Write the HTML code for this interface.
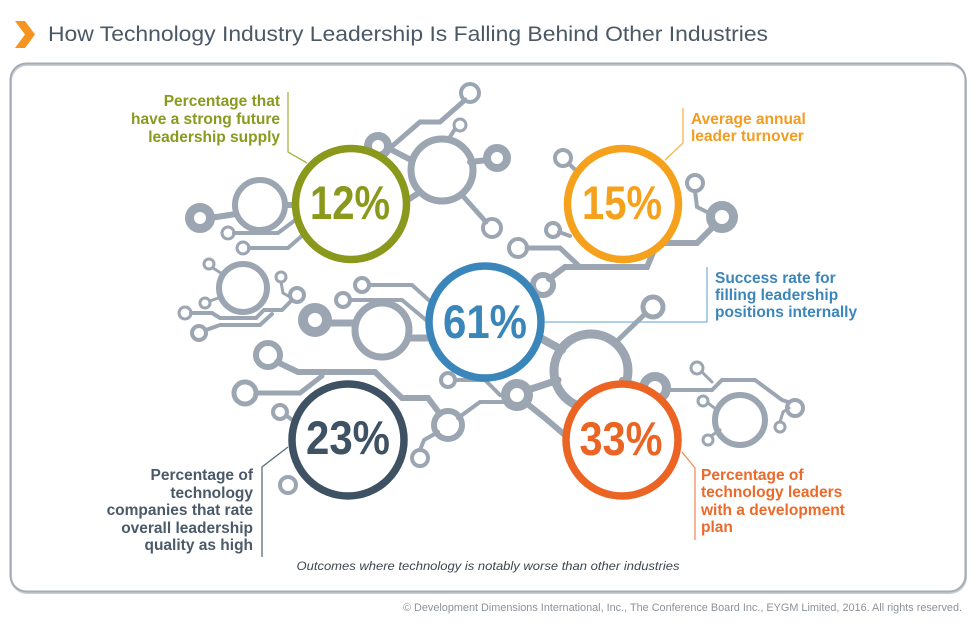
<!DOCTYPE html>
<html><head><meta charset="utf-8"><style>
html,body{margin:0;padding:0;background:#fff;}
svg{display:block;}
text{font-family:"Liberation Sans",Arial,sans-serif;}
</style></head><body>
<svg width="975" height="629" viewBox="0 0 975 629" xmlns="http://www.w3.org/2000/svg">
<rect width="975" height="629" fill="#fff"/>
<!-- title -->
<polygon points="15,21 25,21 35,34.5 25,48 15,48 25,34.5" fill="#f7941d"/>
<text x="48" y="41" font-size="21" fill="#4b5866" textLength="720" lengthAdjust="spacingAndGlyphs">How Technology Industry Leadership Is Falling Behind Other Industries</text>
<!-- frame -->
<rect x="11" y="65" width="955" height="528" rx="16" fill="none" stroke="#c9ced4" stroke-width="2"/>
<rect x="10.5" y="63.5" width="955" height="528" rx="16" fill="none" stroke="#a3adb7" stroke-width="2"/>

<!-- grey circuitry -->
<g fill="none" stroke="#9ba6b2" stroke-linecap="round" stroke-linejoin="miter">
  <!-- top cluster -->
  <polyline points="465,100 440,122 420,122 390,148" stroke-width="5"/>
  <line x1="455" y1="129" x2="448" y2="140" stroke-width="4"/>
  <line x1="411" y1="160" x2="388" y2="148" stroke-width="6"/>
  <line x1="470" y1="162" x2="488" y2="160" stroke-width="6"/>
  <line x1="462" y1="195" x2="486" y2="222" stroke-width="5"/>
  <line x1="420" y1="192" x2="400" y2="205" stroke-width="6"/>
  <circle cx="442" cy="170" r="31" stroke-width="7"/>
  <circle cx="470" cy="93" r="9" stroke-width="4"/>
  <circle cx="460" cy="125" r="6" stroke-width="3"/>
  <circle cx="497" cy="158" r="10" stroke-width="8"/>
  <circle cx="492" cy="228" r="9" stroke-width="4"/>
  <circle cx="378" cy="146" r="10" stroke-width="8"/>

  <!-- left of 12% -->
  <line x1="210" y1="218" x2="236" y2="214" stroke-width="6"/>
  <line x1="285" y1="205" x2="296" y2="205" stroke-width="6"/>
  <polyline points="234,233 278,233 298,218" stroke-width="4"/>
  <polyline points="249,248 288,248 304,234" stroke-width="4"/>
  <circle cx="260" cy="205" r="25" stroke-width="6"/>
  <circle cx="200" cy="218" r="10.5" stroke-width="9"/>
  <circle cx="228" cy="233" r="6" stroke-width="3"/>
  <circle cx="243" cy="248" r="6" stroke-width="3"/>

  <!-- left middle ring cluster -->
  <line x1="213" y1="268" x2="224" y2="275" stroke-width="3"/>
  <polyline points="281,282 283,293 290,297" stroke-width="3"/>
  <line x1="210" y1="301" x2="221" y2="297" stroke-width="3"/>
  <polyline points="191,313 212,313 220,318 256,318 264,310 282,310 292,300" stroke-width="4"/>
  <polyline points="206,330 220,325 260,325 272,314" stroke-width="4"/>
  <circle cx="243" cy="288" r="24" stroke-width="6"/>
  <circle cx="209" cy="264" r="5" stroke-width="3"/>
  <circle cx="281" cy="277" r="5" stroke-width="3"/>
  <circle cx="297" cy="295" r="7" stroke-width="4"/>
  <circle cx="205" cy="303" r="5" stroke-width="3"/>
  <circle cx="185" cy="313" r="6" stroke-width="3"/>
  <circle cx="199" cy="333" r="7" stroke-width="4"/>

  <!-- middle left -->
  <line x1="327" y1="323" x2="356" y2="323" stroke-width="7"/>
  <polyline points="369,285 412,285 432,303" stroke-width="4"/>
  <polyline points="350,300 402,300 426,320" stroke-width="4"/>
  <line x1="408" y1="338" x2="432" y2="338" stroke-width="7"/>
  <circle cx="315" cy="320" r="12" stroke-width="10"/>
  <circle cx="382" cy="330" r="27" stroke-width="7"/>
  <circle cx="362" cy="285" r="7" stroke-width="4"/>
  <circle cx="343" cy="300" r="7" stroke-width="4"/>

  <!-- lower left -->
  <polyline points="277,362 298,372 375,372 402,398 428,398 440,414" stroke-width="6"/>
  <polyline points="256,393 300,393 322,376" stroke-width="5"/>
  <line x1="287" y1="416" x2="300" y2="426" stroke-width="4"/>
  <polyline points="420,450 424,440 438,432" stroke-width="4"/>
  <circle cx="268" cy="355" r="12" stroke-width="6"/>
  <circle cx="245" cy="393" r="11" stroke-width="5"/>
  <circle cx="280" cy="412" r="7" stroke-width="4"/>
  <circle cx="448" cy="425" r="14" stroke-width="6"/>
  <circle cx="420" cy="458" r="8" stroke-width="4"/>
  <circle cx="288" cy="485" r="8" stroke-width="4"/>

  <!-- center right -->
  <line x1="535" y1="335" x2="562" y2="350" stroke-width="8"/>
  <line x1="615" y1="343" x2="645" y2="314" stroke-width="5"/>
  <polyline points="455,380 485,380 500,395 505,395" stroke-width="4"/>
  <line x1="528" y1="390" x2="558" y2="380" stroke-width="7"/>
  <polyline points="525,402 545,418 566,436" stroke-width="6"/>
  <polyline points="458,418 480,402 505,402" stroke-width="4"/>
  <polyline points="622,380 645,388" stroke-width="6"/>
  <circle cx="591" cy="371" r="37" stroke-width="9"/>
  <circle cx="653" cy="307" r="10" stroke-width="5"/>
  <circle cx="655" cy="388" r="11.5" stroke-width="9"/>
  <circle cx="517" cy="395" r="11.5" stroke-width="9"/>
  <circle cx="448" cy="380" r="7" stroke-width="4"/>

  <!-- right small cluster -->
  <polyline points="666,390 712,390 722,380 755,380 782,400 788,402" stroke-width="4"/>
  <polyline points="703,373 712,382" stroke-width="3"/>
  <line x1="708" y1="403" x2="717" y2="410" stroke-width="3"/>
  <line x1="711" y1="436" x2="720" y2="430" stroke-width="3"/>
  <polyline points="780,422 783,412 789,408" stroke-width="3"/>
  <circle cx="740" cy="420" r="25" stroke-width="6"/>
  <circle cx="697" cy="368" r="6" stroke-width="3"/>
  <circle cx="703" cy="401" r="5" stroke-width="3"/>
  <circle cx="708" cy="440" r="5" stroke-width="3"/>
  <circle cx="780" cy="427" r="5" stroke-width="3"/>
  <circle cx="795" cy="408" r="8" stroke-width="4"/>

  <!-- upper right -->
  <line x1="569" y1="164" x2="580" y2="174" stroke-width="4"/>
  <polyline points="695,191 697,207 711,214" stroke-width="4"/>
  <line x1="559" y1="232" x2="570" y2="236" stroke-width="4"/>
  <polyline points="549,279 565,267 647,267 657,243 697,243 714,226" stroke-width="6"/>
  <polyline points="527,248 560,248 578,265" stroke-width="5"/>
  <circle cx="563" cy="158" r="8" stroke-width="4"/>
  <circle cx="695" cy="183" r="8" stroke-width="4"/>
  <circle cx="722" cy="217" r="11.5" stroke-width="9"/>
  <circle cx="553" cy="230" r="7" stroke-width="4"/>
  <circle cx="518" cy="248" r="9" stroke-width="4"/>
  <circle cx="543" cy="285" r="10" stroke-width="6"/>
</g>

<!-- label connectors -->
<g fill="none" stroke-width="1.3">
  <polyline points="288,92 288,152 307,163" stroke="#a8b44a"/>
  <polyline points="683,108 683,143 665,160" stroke="#f8b54a"/>
  <polyline points="707,267 707,322 545,322" stroke="#7fb3d8"/>
  <polyline points="262,557 262,467 288,447" stroke="#5c6d7a"/>
  <polyline points="695,540 695,468 682,452" stroke="#f0905a"/>
</g>

<!-- main rings -->
<g fill="#fff" stroke-width="7.5">
  <circle cx="351" cy="204" r="55.5" stroke="#8a981c"/>
  <circle cx="623" cy="204" r="55.5" stroke="#f6a11c"/>
  <circle cx="485" cy="322" r="56" stroke="#3a86ba"/>
  <circle cx="348" cy="440" r="56" stroke="#3e5263"/>
  <circle cx="622" cy="440" r="56" stroke="#eb6424"/>
</g>
<g font-weight="bold" font-size="47" text-anchor="middle">
  <text x="350" y="219" fill="#8a981c" textLength="80" lengthAdjust="spacingAndGlyphs">12%</text>
  <text x="622" y="219" fill="#f6a11c" textLength="80" lengthAdjust="spacingAndGlyphs">15%</text>
  <text x="485" y="338" fill="#3a86ba" textLength="84" lengthAdjust="spacingAndGlyphs">61%</text>
  <text x="348" y="454" fill="#3e5263" textLength="84" lengthAdjust="spacingAndGlyphs">23%</text>
  <text x="621" y="455" fill="#eb6424" textLength="83" lengthAdjust="spacingAndGlyphs">33%</text>
</g>

<!-- labels -->
<g font-weight="bold" font-size="15.5">
  <g fill="#8a9a1e" text-anchor="end">
    <text x="280" y="106">Percentage that</text>
    <text x="280" y="124">have a strong future</text>
    <text x="280" y="142">leadership supply</text>
  </g>
  <g fill="#f39c1f">
    <text x="691" y="124">Average annual</text>
    <text x="691" y="141">leader turnover</text>
  </g>
  <g fill="#3b86ba">
    <text x="715" y="283">Success rate for</text>
    <text x="715" y="300">filling leadership</text>
    <text x="715" y="317">positions internally</text>
  </g>
  <g fill="#4a5a68" text-anchor="end">
    <text x="253" y="480">Percentage of</text>
    <text x="253" y="498">technology</text>
    <text x="253" y="515">companies that rate</text>
    <text x="253" y="533">overall leadership</text>
    <text x="253" y="550">quality as high</text>
  </g>
  <g fill="#eb6a2a">
    <text x="701" y="480">Percentage of</text>
    <text x="701" y="497">technology leaders</text>
    <text x="701" y="515">with a development</text>
    <text x="701" y="532">plan</text>
  </g>
</g>

<text x="488" y="570" font-size="12" font-style="italic" fill="#3c4650" text-anchor="middle" textLength="383" lengthAdjust="spacingAndGlyphs">Outcomes where technology is notably worse than other industries</text>
<text x="403" y="611" font-size="11" fill="#8c9299" textLength="559" lengthAdjust="spacingAndGlyphs">© Development Dimensions International, Inc., The Conference Board Inc., EYGM Limited, 2016. All rights reserved.</text>
</svg>
</body></html>
